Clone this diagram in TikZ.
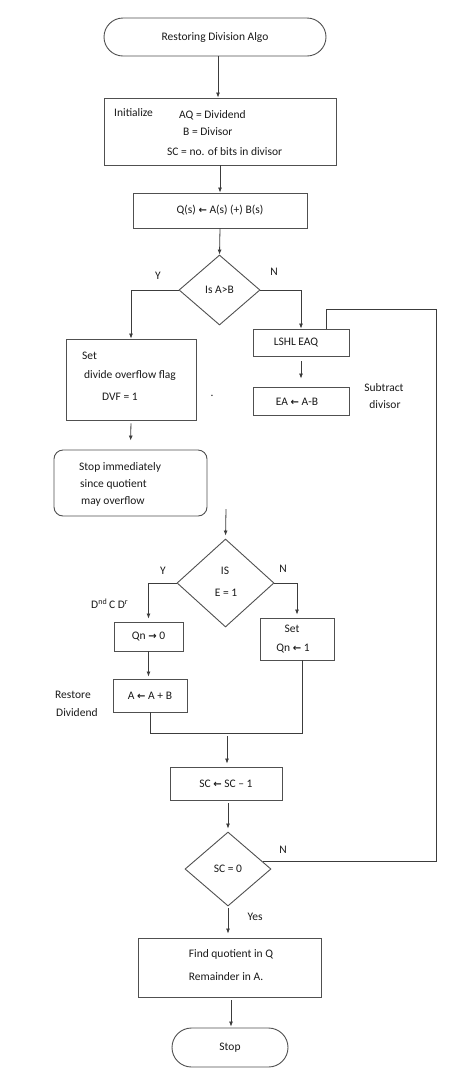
\documentclass[tikz,border=0pt]{standalone}
\usepackage{fontspec}
\setmainfont{Carlito}
\newfontfamily\symf{DejaVu Sans}
\usetikzlibrary{shapes.geometric,arrows.meta,calc}
\newcommand\la{{\symf\bfseries\fontsize{10}{12}\selectfont ←}}
\newcommand\ra{{\symf\bfseries\fontsize{10}{12}\selectfont →}}
\definecolor{linec}{HTML}{3C3C3C}
\definecolor{boxc}{HTML}{505050}
\definecolor{txtc}{HTML}{1A1A1A}
\begin{document}
\begin{tikzpicture}[x=1pt,y=-1pt,
  every node/.style={font=\fontsize{11.5}{13}\selectfont, text=txtc},
  box/.style={draw=boxc, line width=0.9pt, inner sep=0pt},
  term/.style={box, rounded corners=#1},
  dia/.style={draw=boxc, line width=0.9pt, diamond, inner sep=0pt},
  arr/.style={draw=linec, line width=0.8pt, -{Latex[length=5pt,width=4pt]}},
  ln/.style={draw=linec, line width=0.8pt},
  txt/.style={inner sep=0pt}]
\useasboundingbox (0,0) rectangle (474,1072);
\fill[white] (0,0) rectangle (474,1072);

% nodes
\node[term=19pt, minimum width=222pt, minimum height=38pt] (start) at (215,37) {Restoring Division Algo};
\node[box, minimum width=232pt, minimum height=67pt] (init) at (220,131.5) {};
\node[txt, anchor=west] (tinit) at (114,113) {Initialize};
\node[txt, anchor=west] (taq) at (179,115) {AQ = Dividend};
\node[txt, anchor=west] (tb) at (183,132) {B = Divisor};
\node[txt, anchor=west] (tsc) at (167,152) {SC = no. of bits in divisor};
\node[box, minimum width=174pt, minimum height=35pt] (qs) at (220,210.5) {Q(s) \la{} A(s) (+) B(s)};
\node[dia, minimum width=81pt, minimum height=70pt] (d1) at (219.5,290) {Is A>B};
\node[box, minimum width=130pt, minimum height=81pt] (set) at (131,379.5) {};
\node[txt, anchor=west] (tset) at (82,356) {Set};
\node[txt, anchor=west] (tdiv) at (84,375) {divide overflow flag};
\node[txt, anchor=west] (tdvf) at (102,397) {DVF = 1};
\node[txt] (dot) at (212,396) {.};
\node[term=9pt, minimum width=153pt, minimum height=66pt] (stopim) at (130.5,483) {};
\node[txt, anchor=west] (ts1) at (79,467) {Stop immediately};
\node[txt, anchor=west] (ts2) at (80,484) {since quotient};
\node[txt, anchor=west] (ts3) at (81,501) {may overflow};
\node[box, minimum width=96pt, minimum height=27pt] (lshl) at (301,342.5) {};
\node[txt] (tlshl) at (296,343) {LSHL EAQ};
\node[box, minimum width=96pt, minimum height=28pt] (ea) at (301,401) {};
\node[txt] (tea) at (297,402) {EA \la{} A-B};
\node[txt] (tsub) at (384,388) {Subtract};
\node[txt] (tdivs) at (385,405) {divisor};
\node[dia, minimum width=97pt, minimum height=88pt] (d2) at (225.5,583) {};
\node[txt] (tis) at (225,571) {IS};
\node[txt] (te1) at (226,593) {E = 1};
\node[box, minimum width=69pt, minimum height=29pt] (qn0) at (148.5,636.5) {Qn \ra{} 0};
\node[box, minimum width=74pt, minimum height=33pt] (aab) at (150,695.5) {A \la{} A + B};
\node[box, minimum width=74pt, minimum height=42pt] (setqn) at (297,639) {};
\node[txt] (tset2) at (292,629) {Set};
\node[txt] (tqn1) at (293,649) {Qn \la{} 1};
\node[txt, anchor=west] (trest) at (55,695) {Restore};
\node[txt, anchor=west] (tdivd) at (56,713) {Dividend};
\node[txt, anchor=west] (tdcd) at (91,604) {D\textsuperscript{nd}\,C D\textsuperscript{r}};
\node[box, minimum width=112pt, minimum height=33pt] (sc) at (226,783.5) {SC \la{} SC -- 1};
\node[dia, minimum width=86pt, minimum height=74pt] (d3) at (228,869) {SC = 0};
\node[box, minimum width=183pt, minimum height=59pt] (find) at (229.5,967.5) {};
\node[txt] (tf1) at (231,954) {Find quotient in Q};
\node[txt] (tf2) at (226,977) {Remainder in A.};
\node[term=19.5pt, minimum width=116pt, minimum height=39pt] (stop) at (230,1047.5) {Stop};

% labels
\node[txt] (ly1) at (158,276) {Y};
\node[txt] (ln1) at (274,272) {N};
\node[txt] (ly2) at (163,571) {Y};
\node[txt] (ln2) at (283,569) {N};
\node[txt] (ln3) at (283,850) {N};
\node[txt] (lyes) at (255,917) {Yes};

% coordinates
\coordinate (c2) at (226,509);
\coordinate (mj) at (226,733);
\coordinate (lp) at (436,309);

% connectors
\draw[arr] ([xshift=3pt]start.south) -- ([xshift=3pt]start.south |- init.north);
\draw[arr] (init.south) -- (qs.north);
\draw[arr] (qs.south) -- (d1.north);
\draw[arr] (d1.west) -| (set.north);
\draw[arr] (d1.east) -| (lshl.north);
\draw[arr, shorten <=3pt, shorten >=9pt] (set.south) -- (stopim.north);
\draw[arr, shorten <=5pt, shorten >=8pt] (lshl.south) -- (ea.north);
\draw[ln] ([xshift=25pt]lshl.north) |- (lp) |- ($(d3.east)!0.19!(d3.north)$);
\draw[arr, shorten >=3pt] (c2) -- (d2.north);
\draw[arr, shorten >=3pt] (d2.west) -| (qn0.north);
\draw[arr, shorten >=3pt] (d2.east) -| (setqn.north);
\draw[arr, shorten >=2pt] (qn0.south) -- (qn0.south |- aab.north);
\draw[ln] (aab.south) |- (mj) -| ([xshift=5pt]setqn.south);
\draw[arr, shorten <=3pt, shorten >=3pt] ([xshift=1pt]mj) -- ([xshift=1pt]mj |- sc.north);
\draw[arr, shorten <=3pt, shorten >=3pt] ([xshift=2pt]sc.south) -- ([xshift=2pt]sc.south |- d3.north);
\draw[arr, shorten <=2pt, shorten >=4pt] (d3.south) -- (d3.south |- find.north);
\draw[arr, shorten <=3pt, shorten >=1pt] ([xshift=1.5pt]find.south) -- ([xshift=1.5pt]find.south |- stop.north);
\end{tikzpicture}
\end{document}
